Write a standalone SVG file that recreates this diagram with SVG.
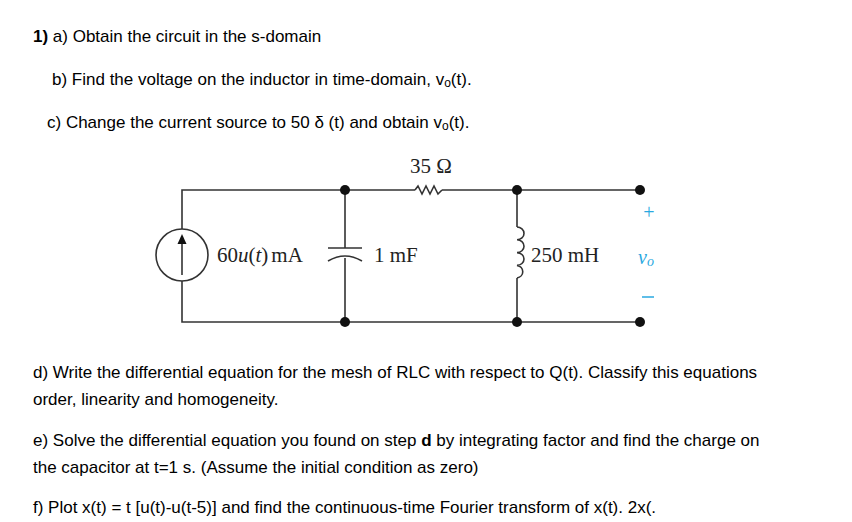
<svg xmlns="http://www.w3.org/2000/svg" width="852" height="522" viewBox="0 0 852 522">
<style>
.t{font-family:"Liberation Sans",Arial,sans-serif;font-size:17px;fill:#000}
.c{font-family:"Liberation Serif","Times New Roman",serif;font-size:21px;fill:#222}
.w{stroke:#333;stroke-width:1.6;fill:none}
.d{fill:#111}
.b{fill:#2aa8e0;font-family:"Liberation Serif",serif;font-size:20px}
</style>
<rect width="852" height="522" fill="#fff"/>
<text class="t" x="33" y="42"><tspan font-weight="bold">1)</tspan> a) Obtain the circuit in the s-domain</text>
<text class="t" x="52" y="85">b) Find the voltage on the inductor in time-domain, v<tspan font-size="12" dy="2">o</tspan><tspan dy="-2">(t).</tspan></text>
<text class="t" x="47" y="128">c) Change the current source to 50 δ (t) and obtain v<tspan font-size="12" dy="2">o</tspan><tspan dy="-2">(t).</tspan></text>
<g id="connectors">
<path class="w" d="M182 229V190H415M442 190H640M182 281V322H640M345 190V248M345 258V322M517 190V227M517 278V322"/>
</g>
<g id="source"><circle class="w" cx="182" cy="255" r="26" stroke-width="2"/><path class="w" d="M182 275V242" stroke-width="2"/><path class="d" d="M182 234l-4.5 10h9z"/>
<text class="c" x="217" y="262">60<tspan font-style="italic">u</tspan>(<tspan font-style="italic">t</tspan>)<tspan dx="3">mA</tspan></text></g>
<g id="cap"><path class="w" d="M328 248H362M328 261Q345 251 362 261"/><text class="c" x="374" y="262">1 mF</text></g>
<g id="res"><path class="w" d="M415 190l3-4 4 8 4-8 4 8 4-8 4 8 4-4"/><text class="c" x="410" y="173">35 Ω</text></g>
<g id="ind"><path class="w" d="M517 227a7 6.4 0 0 1 0 12.8a7 6.4 0 0 1 0 12.8a7 6.4 0 0 1 0 12.8a7 6.4 0 0 1 0 12.6"/><text class="c" x="531" y="262">250 mH</text></g>
<g id="nodes"><circle class="d" cx="345" cy="190" r="5"/><circle class="d" cx="517" cy="190" r="5"/><circle class="d" cx="640" cy="190" r="5"/><circle class="d" cx="345" cy="322" r="5"/><circle class="d" cx="517" cy="322" r="5"/><circle class="d" cx="640" cy="322" r="5"/></g>
<g id="vo"><text class="b" x="649" y="219" text-anchor="middle">+</text><text class="b" x="646" y="264" text-anchor="middle" font-style="italic">v<tspan font-size="14" dy="2">o</tspan></text><path d="M642 297H654" stroke="#2aa8e0" stroke-width="1.5"/></g>
<text class="t" x="33" y="378">d) Write the differential equation for the mesh of RLC with respect to Q(t). Classify this equations</text>
<text class="t" x="33" y="405">order, linearity and homogeneity.</text>
<text class="t" x="33" y="446">e) Solve the differential equation you found on step <tspan font-weight="bold">d</tspan> by integrating factor and find the charge on</text>
<text class="t" x="33" y="473">the capacitor at t=1 s. (Assume the initial condition as zero)</text>
<text class="t" x="33" y="513">f) Plot x(t) = t [u(t)-u(t-5)] and find the continuous-time Fourier transform of x(t). 2x(.</text>
</svg>
